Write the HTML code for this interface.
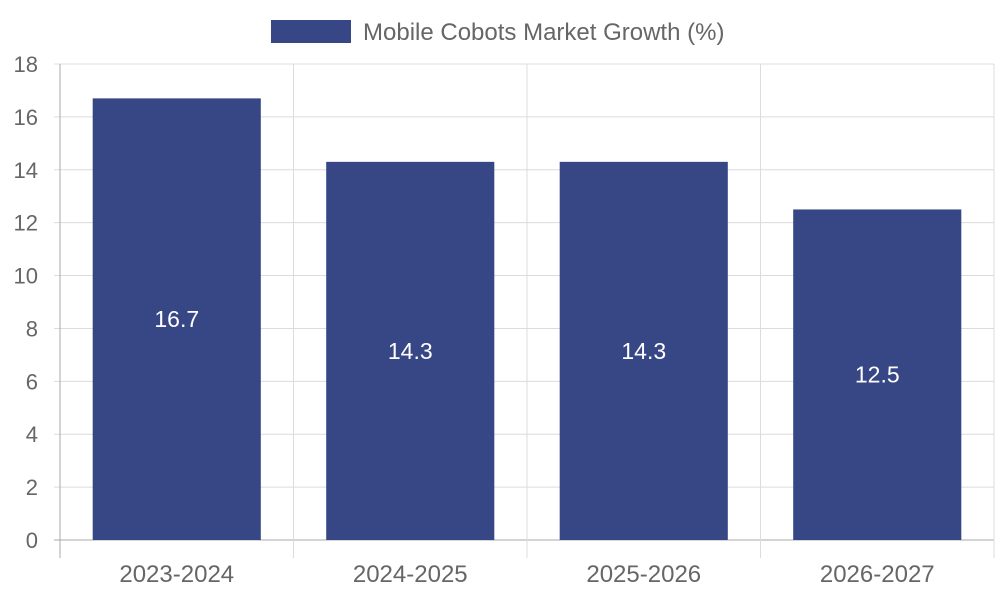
<!DOCTYPE html>
<html><head><meta charset="utf-8"><style>
html,body{margin:0;padding:0;background:#fff;}
svg{display:block;font-family:"Liberation Sans",sans-serif;}
</style></head><body>
<svg id="chart" width="1000" height="600">
<g>
<rect x="271" y="20" width="80" height="23" fill="#374785"/>
<text x="363" y="40" font-size="24" fill="#666">Mobile Cobots Market Growth (%)</text>
</g>
<g id="grid"></g><g id="bars"></g><g id="labels"></g>
</svg>
<script>
const categories=["2023-2024","2024-2025","2025-2026","2026-2027"];
const values=[16.7,14.3,14.3,12.5];
const yTicks=[0,2,4,6,8,10,12,14,16,18];
const L=60,R=994,T=64,B=540,yMax=18;
const ns="http://www.w3.org/2000/svg";
const y=v=>B-(v/yMax)*(B-T);
const bw=(R-L)/categories.length;
const x=i=>L+i*bw;
function mk(tag,attrs,parent){const e=document.createElementNS(ns,tag);for(const k in attrs)e.setAttribute(k,attrs[k]);document.getElementById(parent).appendChild(e);return e;}
yTicks.forEach(t=>{
 const g=mk("line",{x1:L-6,x2:R,y1:y(t),y2:y(t),stroke:t===0?"#aaa":"#dcdcdc","stroke-width":1},"grid");
 
 
 const tx=mk("text",{x:L-22,y:y(t)+8,"font-size":22,fill:"#666","text-anchor":"end"},"grid");
 tx.textContent=t;
 
 
});
for(let i=0;i<=categories.length;i++){
 const g=mk("line",{x1:x(i),x2:x(i),y1:T,y2:B+18,stroke:i===0?"#aaa":"#dcdcdc","stroke-width":1},"grid");
 
 
}
categories.forEach((c,i)=>{
 const bx=x(i)+bw*0.14,w=bw*0.72;
 const r=mk("rect",{x:bx,y:y(values[i]),width:w,height:B-y(values[i]),fill:"#374785"},"bars");
 
 
 const v=mk("text",{x:bx+w/2,y:(y(values[i])+B)/2+8,"font-size":23,fill:"#fff","text-anchor":"middle"},"labels");
 v.textContent=values[i];
 
 
 const t=mk("text",{x:x(i)+bw/2,y:582,"font-size":24,fill:"#666","text-anchor":"middle"},"labels");
 t.textContent=c;
 
 
});
</script>
</body></html>
